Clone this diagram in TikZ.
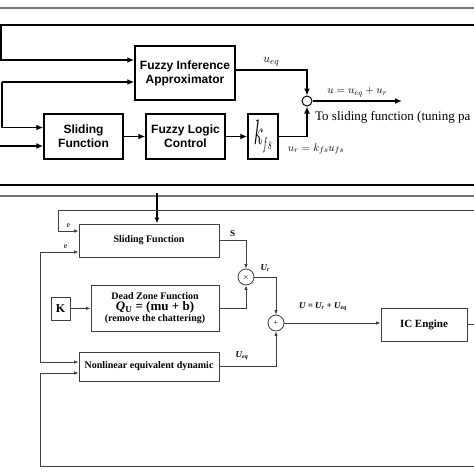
\documentclass[tikz,border=0pt]{standalone}
\usepackage{fontspec}
\setmainfont{Liberation Serif}
\setsansfont{Liberation Sans}
\usepackage{amsmath,graphicx}
\usetikzlibrary{calc,arrows.meta}

\begin{document}
\begin{tikzpicture}[x=1pt,y=-1pt,
  tbox/.style={draw,line width=1.5pt,inner sep=0pt,align=center,font=\sffamily\bfseries\fontsize{12}{14}\selectfont},
  lbox/.style={draw=black!75,line width=0.8pt,inner sep=0pt,align=center,font=\bfseries\fontsize{10}{12}\selectfont},
  tsum/.style={draw,circle,line width=1pt,minimum size=10pt,inner sep=0pt},
  lsum/.style={draw=black!75,circle,line width=0.8pt,minimum size=16pt,inner sep=0pt,font=\fontsize{8}{8}\selectfont},
  tarr/.style={line width=1.5pt,-{Latex[length=7pt,width=6pt]}},
  larr/.style={draw=black!75,line width=0.8pt,-{Latex[length=4.5pt,width=3.5pt]}},
  lline/.style={draw=black!75,line width=0.8pt},
  rule/.style={line width=1.6pt},
  llab/.style={font=\bfseries\itshape\fontsize{9}{10}\selectfont}]
\useasboundingbox (0,0) rectangle (474,474);
\clip (0,0) rectangle (474,474);

% panel rules
\draw[rule,black!55] (0,8) -- (474,8);
\draw[rule] (0,185) -- (474,185);
\draw[rule,black!55] (0,196) -- (474,196);

% upper diagram
\node(FIA) [tbox,minimum width=100pt,minimum height=54pt] at (185,73) {Fuzzy Inference\\Approximator};
\node(SFA) [tbox,minimum width=79pt,minimum height=45pt] at (83.5,136.5) {Sliding\\Function};
\node(FLC) [tbox,minimum width=79pt,minimum height=45pt] at (185.5,136.5) {Fuzzy Logic\\Control};
\node(KFS) [tbox,minimum width=30pt,minimum height=45pt,font=\fontsize{20}{20}\selectfont] at (263,136.5) {\scalebox{0.85}[1.7]{$k_{\scriptscriptstyle fs}$}};
\node(SUMA) [tsum] at (307,101) {};
\coordinate (FBA) at (474,25);
\coordinate (INA) at (1,60);
\coordinate (INB) at (2,82);
\coordinate (INC) at (0,146);
\coordinate (UOUT) at (402,101);
\draw[tarr] (FBA) -| (INA) -- (INA -| FIA.west);
\draw[tarr] (INB) -- (INB -| FIA.west);
\draw[tarr] (INB) |- ($(SFA.west)+(0,-9)$);
\draw[tarr] (INC) -- (INC -| SFA.west);
\draw[tarr] (SFA) -- (FLC);
\draw[tarr] (FLC) -- (KFS);
\draw[tarr] ($(FIA.east)+(0,-3)$) -| (SUMA) node(UEQ) [above, pos=0.25, font=\fontsize{13}{13}\selectfont] {$u_{eq}$};
\draw[tarr] (KFS) -| (SUMA);
\draw[tarr] (SUMA) -- (UOUT) node(UEQN) [above, midway, font=\fontsize{11}{12}\selectfont] {$u=u_{eq}+u_r$};
\node(TUNE) [anchor=west,inner sep=0pt,font=\fontsize{13}{15}\selectfont] at (315,117) {To sliding function (tuning pa};
\node(UREQ) [font=\fontsize{11}{12}\selectfont] at (316,149) {$u_r=k_{fs}u_{fs}$};

% lower diagram
\node(SFB) [lbox,minimum width=140pt,minimum height=33pt] at (149,240.5) {Sliding Function};
\node(MUL) [lsum] at (246,277) {$\times$};
\node(DZF) [lbox,minimum width=128pt,minimum height=46pt] at (155,308) {Dead Zone Function\\[-1pt]{\fontsize{13}{13}\selectfont\textit{Q}\textsubscript{U} = (mu + b)}\\[-1pt](remove the chattering)};
\node(KBX) [lbox,minimum width=19pt,minimum height=23pt,font=\bfseries\fontsize{12}{12}\selectfont] at (60.5,308.5) {K};
\node(ADD) [lsum] at (276,323) {+};
\node(NED) [lbox,minimum width=140pt,minimum height=29pt] at (149,366.5) {Nonlinear equivalent dynamic};
\node(ICE) [lbox,minimum width=86pt,minimum height=33pt,font=\bfseries\fontsize{11}{13}\selectfont] at (424,324.5) {IC Engine};
\coordinate (TUN) at (157,193);
\coordinate (FBB) at (474,210);
\coordinate (EL) at (58,210);
\coordinate (EDL) at (40,252);
\coordinate (FBC) at (474,466);
\coordinate (LPL) at (40,466);
\draw[line width=1.3pt,-{Latex[length=6pt,width=5pt]}] (TUN) -- (TUN |- SFB.north);
\draw[larr] (FBB) -- (EL) |- ($(SFB.west)+(0,-9.5)$) node(ELAB) [above, pos=0.75, font=\fontsize{8}{9}\selectfont] {e};
\draw[larr] (EDL) -- (EDL -| SFB.west) node(EDLAB) [above, pos=0.7, font=\fontsize{8}{9}\selectfont] {e\textsuperscript{·}};
\draw[larr] (EDL) |- ($(NED.west)+(0,-4.5)$);
\draw[larr] (FBC) -- (LPL) |- ($(NED.west)+(0,6.5)$);
\draw[larr] (SFB) -| (MUL) node(SLAB) [above, pos=0.25, font=\bfseries\fontsize{9}{10}\selectfont] {S};
\draw[larr] (KBX) -- (DZF);
\draw[larr] (DZF) -| (MUL);
\draw[larr] (MUL) -| (ADD) node(URLAB) [above=2pt, pos=0.25, llab] {U\textsubscript{r}};
\draw[larr] (NED) -| (ADD) node(UQLAB) [above=3pt, pos=0.2, llab] {U\textsubscript{eq}};
\draw[larr] (ADD) -- (ADD -| ICE.west) node(ULAB) [above=8pt, pos=0.4, llab] {U = U\textsubscript{r} + U\textsubscript{eq}};
\draw[lline] (ICE) -- (ICE -| FBC);
\end{tikzpicture}
\end{document}
